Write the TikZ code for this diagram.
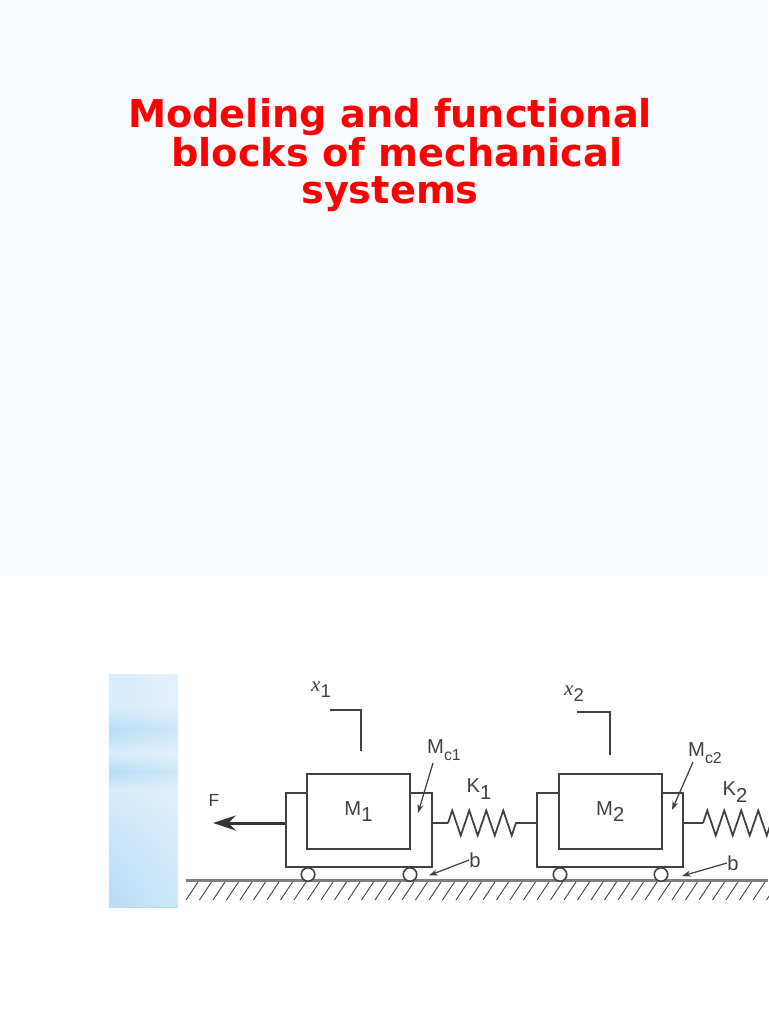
\documentclass[tikz,border=0pt]{standalone}
\usepackage{fontspec}
\setmainfont{Liberation Sans}
\setsansfont{Liberation Sans}
\newfontfamily\titlefont{DejaVu Sans}
\newfontfamily\coordfont{Liberation Serif}
\usepackage{tikz}
\usetikzlibrary{arrows.meta, decorations.pathmorphing, fadings}
\definecolor{slidebg}{HTML}{F8FCFF}
\definecolor{wallmid}{HTML}{B8DDF7}
\definecolor{walllight}{HTML}{D8ECFB}
\definecolor{ink}{HTML}{404040}
\newcommand{\lowered}[1]{\raisebox{-0.6ex}{#1}}
% bands of the wall, bottom to top
\pgfdeclareverticalshading{wallbands}{100bp}{
    color(0bp)=(wallmid);
    color(25bp)=(wallmid);
    color(38bp)=(wallmid!60!walllight);
    color(50bp)=(walllight);
    color(54bp)=(wallmid);
    color(58bp)=(walllight);
    color(63bp)=(wallmid);
    color(68bp)=(walllight);
    color(100bp)=(walllight)
}

\begin{document}
\begin{tikzpicture}[
    x=0.02cm, y=-0.02cm,
    font=\sffamily,
    % Node styles
    cart/.style={rectangle, draw=ink, line width=1.05pt, minimum width=2.92cm, minimum height=1.48cm, inner sep=0pt},
    mass/.style={rectangle, draw=ink, line width=1.05pt, fill=white, minimum width=2.06cm, minimum height=1.5cm, inner sep=0pt, text=ink, font=\fontsize{11.5}{13}\selectfont},
    wheel/.style={circle, draw=ink, line width=0.9pt, fill=white, minimum size=0.27cm, inner sep=0pt},
    lbl/.style={text=ink, inner sep=0pt, font=\fontsize{11.5}{13}\selectfont},
    coordlbl/.style={text=ink, inner sep=0pt, font=\fontsize{10.5}{13}\selectfont},
    spring/.style={draw=ink, line width=1pt, decorate, decoration={zigzag, segment length=0.34cm, amplitude=0.25cm}},
    link/.style={draw=ink, line width=1pt},
    thin arrow/.style={draw=ink, line width=0.7pt, -{Stealth[length=5pt, width=3.5pt]}},
]
\useasboundingbox (0,0) rectangle (768,1024);

% Slide background
\fill[white] (0,0) rectangle (768,1024);
\fill[slidebg] (0,0) rectangle (768,576);

% Title
\node[text=red, align=center, inner sep=0pt, font=\titlefont\bfseries\fontsize{21.8}{20.7}\selectfont] (title) at (390,155)
    {Modeling and functional\\\hspace*{0.28cm}blocks of mechanical\\systems};

% Wall
\shade[shading=wallbands] (109,674) rectangle (178,907);
\fill[white, opacity=0.3, path fading=west] (109,674) rectangle (178,907);

% Ground
\foreach \x in {186,199.5,...,770} {
    \draw[ink, line width=0.5pt] (\x,900) -- (\x+12,882);
}
\draw[gray, line width=1.3pt] (186,880.5) -- (768,880.5);

% First cart
\node[cart] (cart1) at (359,830) {};
\node[mass] (mass1) at (358.5,811.5) {M\lowered{1}};
\node[wheel] (wheel1a) at (308,874.5) {};
\node[wheel] (wheel1b) at (410,874.5) {};

% Second cart
\node[cart] (cart2) at (610,830) {};
\node[mass] (mass2) at (610.2,811.4) {M\lowered{2}};
\node[wheel] (wheel2a) at (560,874.5) {};
\node[wheel] (wheel2b) at (661,874.5) {};

% Applied force
\coordinate (forcetip) at (213,823);
\draw[ink!80!black, line width=1.7pt, -{Stealth[length=13pt, width=8.5pt]}] (cart1.west |- forcetip) -- (forcetip);
\node[lbl, font=\fontsize{10}{12}\selectfont] (force) at (214,800) {F};

% Displacement brackets
\coordinate (x1a) at (330,710);
\coordinate (x1b) at (361,751);
\draw[link] (x1a) -| (x1b);
\node[coordlbl] (x1) at (321,690) {{\coordfont\itshape\fontsize{12}{13}\selectfont x}\lowered{1}};
\coordinate (x2a) at (577,712);
\coordinate (x2b) at (610,755);
\draw[link] (x2a) -| (x2b);
\node[coordlbl] (x2) at (574,694) {{\coordfont\itshape\fontsize{12}{13}\selectfont x}\lowered{2}};

% Springs
\coordinate (k1a) at (448,823);
\coordinate (k1b) at (517,823);
\draw[link] (cart1.east |- k1a) -- (k1a);
\draw[spring] (k1a) -- (k1b);
\draw[link] (k1b) -- (cart2.west |- k1b);
\node[lbl] (k1) at (479,789) {K\lowered{1}};
\coordinate (k2a) at (703,823);
\coordinate (k2b) at (772,823);
\draw[link] (cart2.east |- k2a) -- (k2a);
\draw[spring] (k2a) -- (k2b);
\node[lbl] (k2) at (735,792) {K\lowered{2}};

% Friction and damping labels
\node[lbl] (mc1) at (444,750) {M\lowered{\fontsize{9}{10}\selectfont c1}};
\coordinate (mc1tip) at (418,813);
\draw[thin arrow] (433,763) -- (mc1tip);
\node[lbl] (mc2) at (705,753) {M\lowered{\fontsize{9}{10}\selectfont c2}};
\coordinate (mc2tip) at (672,810);
\draw[thin arrow] (693,762) -- (mc2tip);
\node[lbl] (b1) at (475,860) {b};
\coordinate (b1tip) at (429,875.5);
\draw[thin arrow] (b1.west) -- (b1tip);
\node[lbl] (b2) at (733,863) {b};
\coordinate (b2tip) at (682,876);
\draw[thin arrow] (b2.west) -- (b2tip);

\end{tikzpicture}
\end{document}
